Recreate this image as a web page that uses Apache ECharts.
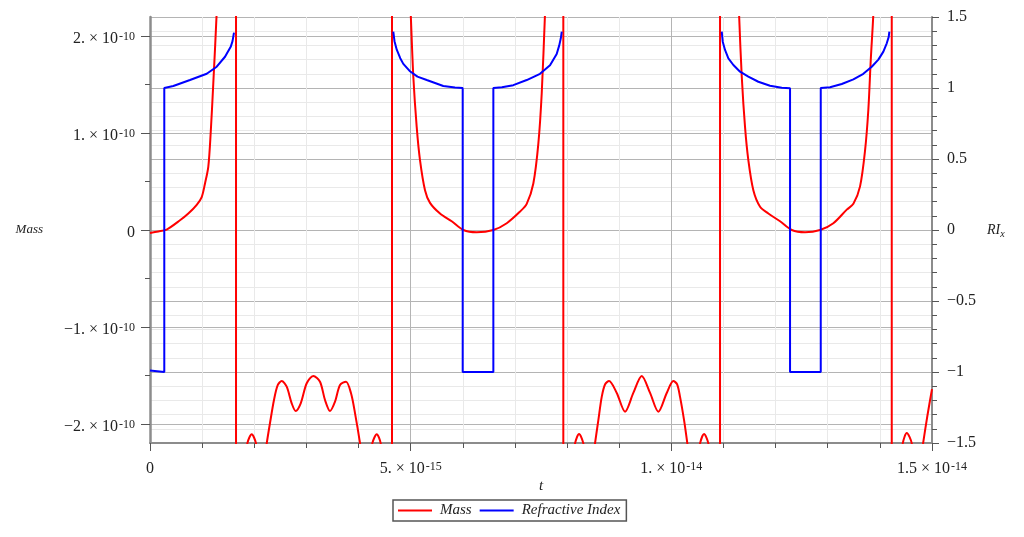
<!DOCTYPE html>
<html><head><meta charset="utf-8">
<script src="https://cdn.jsdelivr.net/npm/echarts@6/dist/echarts.min.js"></script>
<style>html,body{margin:0;padding:0;background:#fff}#c{width:1024px;height:537px}</style>
</head><body><div id="c"></div>
<script>
// t in units of 1e-15 s, Mass in units of 1e-10, RI dimensionless
const massSegA = [[0,-0.03],[0.16,-0.015],[0.32,0.005],[0.575,0.10],[0.735,0.17],[0.896,0.26],[0.992,0.34],[1.055,0.48],[1.118,0.65],[1.164,1.0],[1.214,1.51],[1.279,2.24],[1.33,3.0],[1.55,12]];
const massSegB = [[1.70,-4],[1.784,-2.6],[1.867,-2.2],[1.951,-2.106],[2.033,-2.2],[2.09,-2.5],[2.16,-2.5],[2.239,-2.2],[2.302,-1.99],[2.379,-1.75],[2.450,-1.60],[2.526,-1.557],[2.622,-1.615],[2.718,-1.787],[2.795,-1.866],[2.891,-1.787],[3.006,-1.58],[3.133,-1.505],[3.261,-1.564],[3.357,-1.753],[3.453,-1.866],[3.549,-1.77],[3.645,-1.598],[3.760,-1.564],[3.856,-1.684],[3.933,-1.89],[4.029,-2.2],[4.105,-2.5],[4.182,-2.5],[4.264,-2.2],[4.349,-2.106],[4.425,-2.2],[4.508,-2.6],[4.60,-4]];
const massSegC = [[4.70,12],[4.80,5.0],[4.94,3.0],[5.001,2.23],[5.051,1.58],[5.116,1.06],[5.179,0.72],[5.275,0.41],[5.371,0.28],[5.563,0.17],[5.787,0.09],[6.010,0.0],[6.267,-0.024],[6.586,0.0],[6.843,0.07],[7.098,0.19],[7.226,0.27],[7.353,0.48],[7.449,0.89],[7.514,1.41],[7.577,2.23],[7.635,3.0],[7.80,6],[7.90,12]];
const massSegD = [[7.98,-4],[8.057,-2.6],[8.153,-2.2],[8.230,-2.103],[8.312,-2.2],[8.383,-2.5],[8.460,-2.5],[8.536,-2.2],[8.600,-1.96],[8.665,-1.72],[8.73,-1.59],[8.805,-1.557],[8.953,-1.68],[9.112,-1.873],[9.271,-1.68],[9.432,-1.505],[9.592,-1.68],[9.751,-1.873],[9.912,-1.68],[10.039,-1.557],[10.11,-1.59],[10.167,-1.72],[10.244,-1.96],[10.307,-2.2],[10.378,-2.5],[10.455,-2.5],[10.551,-2.2],[10.627,-2.103],[10.710,-2.2],[10.800,-2.6],[10.90,-4]];
const massSegE = [[11.0,12],[11.12,5.0],[11.251,3.0],[11.299,2.23],[11.351,1.58],[11.414,1.06],[11.477,0.72],[11.573,0.41],[11.702,0.24],[11.861,0.17],[12.085,0.09],[12.310,0.0],[12.565,-0.024],[12.853,0.0],[13.108,0.07],[13.365,0.21],[13.492,0.27],[13.620,0.45],[13.716,0.82],[13.779,1.24],[13.825,1.75],[13.875,2.23],[13.927,3.0],[14.10,6],[14.20,12]];
const massSegF = [[14.26,-4],[14.349,-2.6],[14.439,-2.2],[14.516,-2.093],[14.612,-2.2],[14.675,-2.5],[14.752,-2.5],[14.829,-2.2],[14.91,-1.92],[15.0,-1.64]];
const massPoles = [1.650, 4.642, 7.928, 10.934, 14.228];

const riSegA = [[0,-0.99],[0.274,-1.0],[0.274,1.0],[0.447,1.014],[0.767,1.056],[1.088,1.10],[1.280,1.15],[1.439,1.22],[1.548,1.29],[1.583,1.33],[1.611,1.39]];
const riSegB = [[4.667,1.397],[4.690,1.33],[4.733,1.27],[4.80,1.21],[4.859,1.17],[4.98,1.12],[5.13,1.08],[5.308,1.056],[5.626,1.014],[5.85,1.003],[5.998,1.0],[5.998,-1.0],[6.586,-1.0],[6.586,1.0],[6.75,1.005],[6.969,1.02],[7.226,1.056],[7.481,1.10],[7.673,1.16],[7.801,1.24],[7.85,1.30],[7.88,1.35],[7.898,1.397]];
const riSegC = [[10.967,1.397],[10.986,1.326],[11.030,1.268],[11.094,1.209],[11.190,1.162],[11.318,1.115],[11.477,1.080],[11.669,1.044],[11.893,1.016],[12.118,1.002],[12.277,0.998],[12.277,-1.0],[12.866,-1.0],[12.866,1.0],[13.044,1.005],[13.269,1.028],[13.492,1.061],[13.683,1.10],[13.844,1.15],[13.971,1.20],[14.067,1.256],[14.132,1.315],[14.170,1.36],[14.182,1.397]];

const tTickVals = [0, 5, 10, 15];
const tTickMant = ['0', '5.', '1.', '1.5'];
const tTickExp = ['', '-15', '-14', '-14'];
const massTickVals = [-2, -1, 0, 1, 2];
const massTickMant = ['\u22122.', '\u22121.', '0', '1.', '2.'];
const massTickExp = ['-10', '-10', '', '-10', '-10'];
const massMinorTicks = [-1.5, -0.5, 0.5, 1.5];
const massRange = [-2.196, 2.196];
const riRange = [-1.5, 1.5];
const tRange = [0, 15];

const FONT = "'Liberation Serif', 'DejaVu Serif', serif";
const RED = '#ff0000', BLUE = '#0000ff';
const MAJOR_GRID = '#b4b4b4', MINOR_GRID = '#e9e9e9', AXIS = '#8c8c8c';

function sciFormatter(vals, mant, exp) {
  return function (v) {
    for (let i = 0; i < vals.length; i++) {
      if (Math.abs(v - vals[i]) < 1e-9) {
        return exp[i] ? '{m|' + mant[i] + ' \u00d7 10}{e|' + exp[i] + '}' : '{m|' + mant[i] + '}';
      }
    }
    return '';
  };
}
const sciRich = {
  m: { fontFamily: FONT, fontSize: 16, lineHeight: 16, verticalAlign: 'bottom', color: '#222' },
  e: { fontFamily: FONT, fontSize: 12, lineHeight: 12, verticalAlign: 'top', padding: [0, 0, 6.5, 1], color: '#222' }
};

const series = [];
function massLine(data) {
  series.push({ name: 'Mass', type: 'line', xAxisIndex: 0, yAxisIndex: 0, data: data, showSymbol: false, smooth: 0.3, clip: true,
    color: RED, lineStyle: { color: RED, width: 2 }, animation: false, z: 3 });
}
function riLine(data) {
  series.push({ name: 'Refractive Index', type: 'line', xAxisIndex: 0, yAxisIndex: 2, data: data, showSymbol: false, smooth: false, clip: true,
    color: BLUE, lineStyle: { color: BLUE, width: 2 }, animation: false, z: 4 });
}
[massSegA, massSegB, massSegC, massSegD, massSegE, massSegF].forEach(massLine);
massPoles.forEach(p => massLine([[p, 3], [p, -3]]));
[riSegA, riSegB, riSegC].forEach(riLine);

const chart = echarts.init(document.getElementById('c'), null, { renderer: 'canvas' });
chart.setOption({
  animation: false,
  backgroundColor: '#fff',
  grid: { left: 150, right: 92, top: 17, bottom: 94, containLabel: false, outerBoundsMode: 'none' },
  legend: {
    data: ['Mass', 'Refractive Index'],
    left: 393, top: 500,
    icon: 'rect', itemWidth: 34, itemHeight: 2, itemGap: 8,
    borderColor: '#555', borderWidth: 1.5, padding: [3, 6, 3, 5],
    textStyle: { fontFamily: FONT, fontStyle: 'italic', fontSize: 15, color: '#222', padding: [0, 0, 0, 3] }
  },
  xAxis: [{
    type: 'value', min: tRange[0], max: tRange[1], interval: 5,
    name: 't', nameLocation: 'middle', nameGap: 36, nameMoveOverlap: false,
    nameTextStyle: { fontFamily: FONT, fontStyle: 'italic', fontSize: 15, color: '#222' },
    axisLine: { show: true, onZero: false, lineStyle: { color: AXIS, width: 2 } },
    axisTick: { show: true, length: 8, lineStyle: { color: '#555' } },
    minorTick: { show: true, splitNumber: 5, length: 5, lineStyle: { color: '#555' } },
    axisLabel: { formatter: sciFormatter(tTickVals, tTickMant, tTickExp), rich: sciRich, margin: 18 },
    splitLine: { show: true, lineStyle: { color: MAJOR_GRID, width: 1 } },
    minorSplitLine: { show: true, lineStyle: { color: MINOR_GRID, width: 1 } }
  }],
  yAxis: [{
    type: 'value', position: 'left', min: massRange[0], max: massRange[1],
    name: 'Mass', nameLocation: 'middle', nameRotate: 0, nameGap: 107, nameMoveOverlap: false,
    nameTextStyle: { fontFamily: FONT, fontStyle: 'italic', fontSize: 13, color: '#222' },
    axisLine: { show: true, onZero: false, lineStyle: { color: AXIS, width: 2.5 } },
    axisTick: { show: true, length: 9, customValues: massTickVals, lineStyle: { color: '#555' } },
    axisLabel: { customValues: massTickVals, formatter: sciFormatter(massTickVals, massTickMant, massTickExp), rich: sciRich, margin: 15, padding: [5, 0, 0, 0] },
    splitLine: { show: true, lineStyle: { color: MAJOR_GRID, width: 1 } }
  }, {
    type: 'value', position: 'left', min: massRange[0], max: massRange[1],
    axisLine: { show: false },
    axisTick: { show: true, length: 5, customValues: massMinorTicks, lineStyle: { color: '#555' } },
    axisLabel: { show: false },
    splitLine: { show: false }
  }, {
    type: 'value', position: 'right', min: riRange[0], max: riRange[1], interval: 0.5,
    name: '{b|RI}{s|x}', nameLocation: 'middle', nameRotate: 0, nameGap: 55, nameMoveOverlap: false,
    nameTextStyle: { fontFamily: FONT, fontStyle: 'italic', fontSize: 14, color: '#222',
      rich: { b: { fontFamily: FONT, fontStyle: 'italic', fontSize: 14, lineHeight: 18, color: '#222' },
              s: { fontFamily: FONT, fontStyle: 'italic', fontSize: 10, lineHeight: 10, verticalAlign: 'bottom', color: '#222' } } },
    axisLine: { show: true, onZero: false, lineStyle: { color: AXIS, width: 2 } },
    axisTick: { show: true, length: 7, lineStyle: { color: '#555' } },
    minorTick: { show: true, splitNumber: 5, length: 5, lineStyle: { color: '#555' } },
    axisLabel: { fontFamily: FONT, fontSize: 16, color: '#222', margin: 15,
      formatter: v => (Math.round(v * 10) / 10).toString().replace('-', '\u2212') },
    splitLine: { show: true, lineStyle: { color: MAJOR_GRID, width: 1 } },
    minorSplitLine: { show: true, lineStyle: { color: MINOR_GRID, width: 1 } }
  }],
  series: series
});
</script>
</body></html>
